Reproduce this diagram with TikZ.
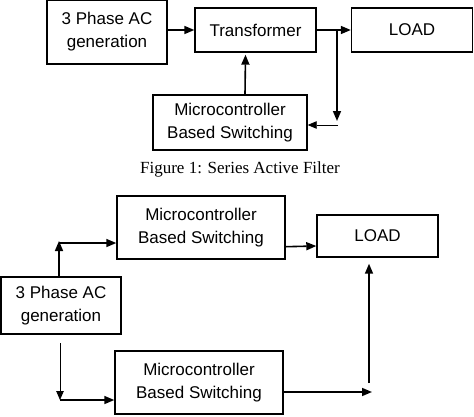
\documentclass[tikz,border=0pt]{standalone}
\usepackage{fontspec}
\setmainfont{Liberation Sans}
\newfontfamily\capfont{Liberation Serif}
\usetikzlibrary{arrows.meta}

\begin{document}
\begin{tikzpicture}[x=1pt,y=-1pt,
            blk/.style={draw,line width=1.4pt,align=center,inner sep=0pt,font=\fontsize{17}{23}\selectfont},
            arr/.style={line width=1.6pt,-{Triangle[length=10pt,width=8pt]}},
            thin/.style={line width=0.8pt,-{Triangle[length=9pt,width=7.5pt]}}]
            \useasboundingbox (0,0) rectangle (474,416);
            \node[blk,minimum width=120pt,minimum height=64pt] (acA) at (107,32) {3 Phase AC\\generation};
            \node[blk,minimum width=121pt,minimum height=44pt] (trafo) at (255.5,30) {Transformer};
            \node[blk,minimum width=121pt,minimum height=44pt] (loadA) at (412,30) {LOAD};
            \node[blk,minimum width=154pt,minimum height=55pt] (mcA) at (230,122.5) {Microcontroller\\Based Switching};
            \coordinate (tap) at (337,30);
            \coordinate (drop) at (337,121);
            \coordinate (back) at (338,125);
            \draw[arr] (acA.east |- trafo.west) -- (trafo.west);
            \draw[arr] (trafo.east) -- (loadA.west);
            \draw[arr] (tap) -- (drop);
            \draw[thin] (back) -- (mcA.east |- back);
            \draw[arr] ([xshift=15pt]mcA.north) -- ([xshift=-10pt,yshift=-2pt]trafo.south);
            \node[font=\capfont\fontsize{17}{20}\selectfont] (cap) at (240,169) {Figure 1: Series Active Filter};
            \node[blk,minimum width=168pt,minimum height=63pt] (mcB) at (201,227.5) {Microcontroller\\Based Switching};
            \node[blk,minimum width=121pt,minimum height=42pt] (loadB) at (377.5,236) {LOAD};
            \node[blk,minimum width=120pt,minimum height=57pt] (acB) at (61,305.5) {3 Phase AC\\generation};
            \node[blk,minimum width=168pt,minimum height=63pt] (mcC) at (199,382.5) {Microcontroller\\Based Switching};
            \coordinate (up) at (59,243);
            \coordinate (down) at (60,343);
            \coordinate (low) at (60,400);
            \coordinate (right) at (372,392);
            \coordinate (rise) at (369,383);
            \draw[arr] (mcB.east |- loadB.south) ++(0,-11) -- (loadB.west |- 0,246);
            \draw[arr] (acB.north -| up) -- ([yshift=2pt]up);
            \draw[arr] (up) -- (mcB.west |- up);
            \draw[thin] (down) -- (low);
            \draw[arr] (low) -- (mcC.west |- low);
            \draw[arr] (mcC.east |- right) -- (right);
            \draw[arr] (rise) -- ([yshift=-6pt]loadB.south -| rise);
        \end{tikzpicture}
\end{document}
